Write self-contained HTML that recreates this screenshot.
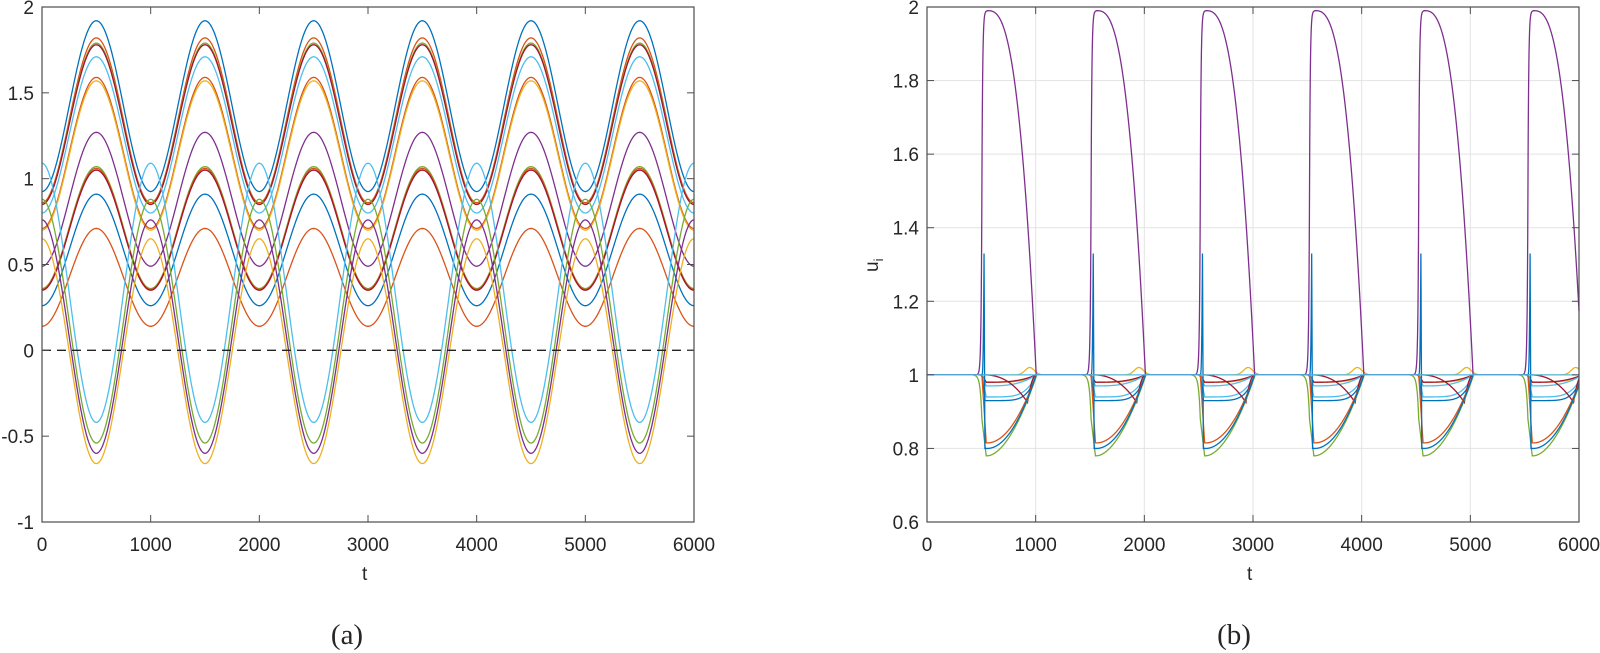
<!DOCTYPE html>
<html><head><meta charset="utf-8"><style>
html,body{margin:0;padding:0;background:#fff;}
svg{display:block;}
text{font-family:"Liberation Sans",sans-serif;fill:#262626;}
</style></head><body>
<svg id="s" width="1600" height="653" viewBox="0 0 1600 653" xmlns="http://www.w3.org/2000/svg"></svg>
<script>
const S=document.getElementById('s');
let h='';
const C={b:'#0072BD',r:'#D95319',y:'#EDB120',p:'#7E2F8E',g:'#77AC30',c:'#4DBEEE',d:'#A2142F'};
function axes(x0,x1,y0,y1,ymin,ymax,yt,grid){
  const X=t=>x0+(t/6000)*(x1-x0), Y=v=>y1-(v-ymin)/(ymax-ymin)*(y1-y0);
  if(grid){
    for(let t=1000;t<6000;t+=1000)h+=`<line x1="${X(t)}" y1="${y0}" x2="${X(t)}" y2="${y1}" stroke="#e3e3e3" stroke-width="1"/>`;
    yt.forEach(v=>{if(v>ymin&&v<ymax)h+=`<line x1="${x0}" y1="${Y(v)}" x2="${x1}" y2="${Y(v)}" stroke="#e3e3e3" stroke-width="1"/>`;});
  }
  return {X,Y};
}
function frame(x0,x1,y0,y1,ymin,ymax,yt,ylabs){
  const X=t=>x0+(t/6000)*(x1-x0), Y=v=>y1-(v-ymin)/(ymax-ymin)*(y1-y0);
  h+=`<rect x="${x0}" y="${y0}" width="${x1-x0}" height="${y1-y0}" fill="none" stroke="#4d4d4d" stroke-width="1.2"/>`;
  for(let t=0;t<=6000;t+=1000){
    const x=X(t);
    h+=`<line x1="${x}" y1="${y1}" x2="${x}" y2="${y1-7}" stroke="#4d4d4d"/><line x1="${x}" y1="${y0}" x2="${x}" y2="${y0+7}" stroke="#4d4d4d"/>`;
    h+=`<text x="${x}" y="551" font-size="19" text-anchor="middle">${t}</text>`;
  }
  yt.forEach((v,i)=>{const y=Y(v);
    h+=`<line x1="${x0}" y1="${y}" x2="${x0+7}" y2="${y}" stroke="#4d4d4d"/><line x1="${x1}" y1="${y}" x2="${x1-7}" y2="${y}" stroke="#4d4d4d"/>`;
    h+=`<text x="${x0-8}" y="${y+7}" font-size="19" text-anchor="end">${ylabs[i]}</text>`;});
}
function path(pts,col,extra){
  h+=`<path d="M${pts.map(p=>p[0].toFixed(2)+','+p[1].toFixed(2)).join('L')}" fill="none" stroke="${col}" stroke-width="1.3" ${extra||''}/>`;
}
// Left
{
 const x0=42,x1=694,y0=7,y1=522;
 const A=axes(x0,x1,y0,y1,-1,2,[],false);
 const up=[['b',1.92,0.925],['r',1.82,0.86],['g',1.79,0.85],['d',1.78,0.85],['c',1.71,0.80],['r',1.59,0.71],['y',1.57,0.70],['p',1.27,0.49],['g',1.07,0.36],['r',1.06,0.355],['d',1.05,0.35],['b',0.91,0.26],['r',0.71,0.14]];
 const inv=[['c',1.09,-0.42],['g',0.88,-0.54],['p',0.76,-0.60],['y',0.65,-0.66]];
 const all=[];
 up.forEach(([c,mx,mn])=>all.push([c,mx,mn,1]));
 inv.forEach(([c,mx,mn])=>all.push([c,mx,mn,-1]));
 all.forEach(([c,mx,mn,s])=>{
   const pts=[];const m=(mx+mn)/2,a=(mx-mn)/2;
   for(let t=0;t<=6000;t+=10){pts.push([A.X(t),A.Y(m+s*a*Math.cos(2*Math.PI*(t-500)/1000))]);}
   path(pts,C[c]);
 });
 h+=`<line x1="${x0}" y1="${A.Y(0)}" x2="${x1}" y2="${A.Y(0)}" stroke="#222" stroke-width="1.3" stroke-dasharray="9,6"/>`;
 frame(x0,x1,y0,y1,-1,2,[-1,-0.5,0,0.5,1,1.5,2],['-1','-0.5','0','0.5','1','1.5','2']);
 h+=`<text x="362" y="580" font-size="19">t</text>`;
 h+=`<text x="347" y="644" font-size="29" text-anchor="middle" style="font-family:'Liberation Serif',serif">(a)</text>`;
}
// Right
{
 const x0=927,x1=1579,y0=7,y1=522;
 const yt=[0.6,0.8,1,1.2,1.4,1.6,1.8,2];
 const A=axes(x0,x1,y0,y1,0.6,2,yt,true);
 const starts=[505,1510,2515,3520,4525,5530];
 const cl=(x)=>Math.max(0,Math.min(1,x));
 function pulse(f){
   return t=>{for(const s of starts){const u=t-s;if(u>-80&&u<560)return f(u);}return 1;};
 }
 const E=(u)=>u<0?Math.exp(u/8):1;
 const fns=[
  ['y',u=>1+0.02*Math.exp(-Math.pow((u-440)/60,2))*(u>-10?1:0)],
  ['y',u=>1-0.02*cl(u/40)*(1-Math.pow(cl((u-40)/460),4))],
  ['d',u=>1-0.02*cl(u/40)*(1-Math.pow(cl((u-40)/460),3))],
  ['c',u=>1-0.03*cl(u/40)*(1-Math.pow(cl((u-40)/460),3))],
  ['c',u=>1-0.06*cl(u/40)*(1-Math.pow(cl((u-30)/470),5))],
  ['b',u=>1-0.07*cl(u/30)*(1-Math.pow(cl((u-30)/470),6))],
  ['d',u=>{if(u<0)return 1; if(u<420)return 1-0.075*Math.pow(u/420,2.5); return 1-0.075*(1-cl((u-420)/80))**2;}],
  ['r',u=>{if(u<0)return 1-0.005*E(u); if(u<50)return 1-0.185*cl(u/40); return 1-0.185*(1-Math.pow(cl((u-50)/450),2));}],
  ['g',u=>{if(u<0)return 1-0.12*Math.exp(u/15); if(u<50)return 1-0.12-0.1*cl(u/40); return 1-0.22*(1-Math.pow(cl((u-50)/455),1.8));}],
  ['b',u=>{if(u<0)return 1; if(u<20)return 1+0.33*Math.pow(u/20,3); if(u<28)return 1.33-0.53*cl((u-20)/8); if(u<50)return 0.8; return 1-0.2*(1-Math.pow(cl((u-50)/450),2));}],
  ['p',u=>{if(u<0)return 1+0.99*Math.exp(u/7)*0.5; if(u<50)return 1+0.99*(1-0.5*Math.exp(-u/7)); return 1+0.99*Math.max(0,1-Math.pow(cl((u-50)/450),2.8));}],
  ['c',u=>1]
 ];
 fns.forEach(([c,f])=>{
   const g=pulse(f);const pts=[];
   for(let t=0;t<=6000;t+=1){pts.push([A.X(t),A.Y(g(t))]);}
   path(pts,C[c],'stroke-width="1.1"');
 });
 frame(x0,x1,y0,y1,0.6,2,yt,['0.6','0.8','1','1.2','1.4','1.6','1.8','2']);
 h+=`<text x="1247" y="580" font-size="19">t</text>`;
 h+=`<text transform="translate(878,272) rotate(-90)" font-size="19">u<tspan font-size="13" dy="5">i</tspan></text>`;
 h+=`<text x="1234" y="644" font-size="29" text-anchor="middle" style="font-family:'Liberation Serif',serif">(b)</text>`;
}
S.innerHTML=h;
</script>
</body></html>
